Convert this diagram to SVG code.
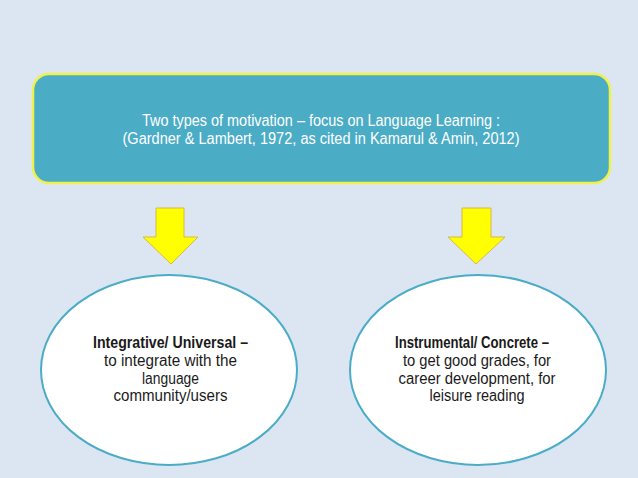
<svg xmlns="http://www.w3.org/2000/svg" width="638" height="478" viewBox="0 0 638 478">
<style>
.top{font-family:"Liberation Sans",Arial,sans-serif;font-size:16px;fill:#ffffff;text-anchor:middle}
.el{font-family:"Liberation Sans",Arial,sans-serif;font-size:16px;fill:#1a1a1a;text-anchor:middle}
.b{font-weight:bold}
.arrow{fill:#ffff00;stroke:#d9b84a;stroke-width:1}
.oval{fill:#ffffff;stroke:#4bacc6;stroke-width:2}
</style>
<rect width="638" height="478" fill="#dce6f2"/>
<g id="top-box">
<rect x="33" y="74" width="577" height="109" rx="16" fill="#4bacc6" stroke="#eef24a" stroke-width="2.5"/>
<text class="top" x="321" y="126" textLength="358" lengthAdjust="spacingAndGlyphs">Two types of motivation – focus on Language Learning :</text>
<text class="top" x="321" y="144" textLength="397" lengthAdjust="spacingAndGlyphs">(Gardner &amp; Lambert, 1972, as cited in Kamarul &amp; Amin, 2012)</text>
</g>
<g id="connectors">
<path class="arrow" d="M156,208 H184 V237 H198 L171,264 L143,237 H156 Z"/>
<path class="arrow" d="M462,208 H491 V237 H505 L476,264 L448,237 H462 Z"/>
</g>
<g id="integrative">
<ellipse class="oval" cx="169" cy="370" rx="128" ry="95"/>
<text class="el b" x="170.5" y="348" textLength="155" lengthAdjust="spacingAndGlyphs">Integrative/ Universal –</text>
<text class="el" x="170.5" y="366" textLength="133" lengthAdjust="spacingAndGlyphs">to integrate with the</text>
<text class="el" x="170.5" y="384" textLength="57" lengthAdjust="spacingAndGlyphs">language</text>
<text class="el" x="170.5" y="401" textLength="114" lengthAdjust="spacingAndGlyphs">community/users</text>
</g>
<g id="instrumental">
<ellipse class="oval" cx="478" cy="370" rx="128" ry="95"/>
<text class="el b" x="472" y="348" textLength="154" lengthAdjust="spacingAndGlyphs">Instrumental/ Concrete –</text>
<text class="el" x="477" y="366" textLength="148" lengthAdjust="spacingAndGlyphs">to get good grades, for</text>
<text class="el" x="477" y="384" textLength="157" lengthAdjust="spacingAndGlyphs">career development, for</text>
<text class="el" x="477" y="401" textLength="95" lengthAdjust="spacingAndGlyphs">leisure reading</text>
</g>
</svg>
